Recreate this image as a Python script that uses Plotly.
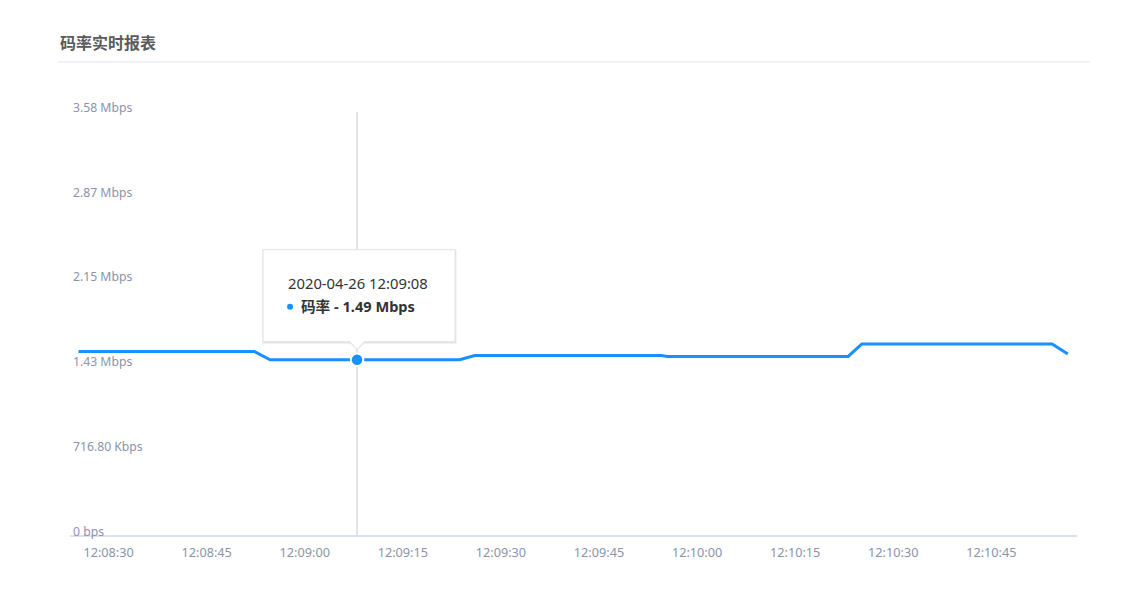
import plotly.graph_objects as go

# ---- data ----
DAY = "2020-04-26"
times = ["12:08:25.4", "12:08:52.3", "12:08:54.7", "12:09:08", "12:09:23.7", "12:09:26.0",
         "12:09:54.5", "12:09:55.5", "12:10:23.1", "12:10:25.2", "12:10:54.3", "12:10:56.7"]
bitrate_kbps = [1560, 1560, 1490, 1490, 1490, 1526, 1526, 1518, 1518, 1623, 1623, 1538]
series_name = "码率"
title_text = "码率实时报表"

y_tick_vals = [0, 716.8, 1433.6, 2150.4, 2867.2, 3584]
y_tick_text = ["0 bps", "716.80 Kbps", "1.43 Mbps", "2.15 Mbps", "2.87 Mbps", "3.58 Mbps"]
x_tick_labels = ["12:08:30", "12:08:45", "12:09:00", "12:09:15", "12:09:30", "12:09:45",
                 "12:10:00", "12:10:15", "12:10:30", "12:10:45"]
x_range = ["12:08:24.1", "12:10:58.1"]
tooltip_index = 3

# ---- derived ----
xs = [f"{DAY} {t}" for t in times]
tip_x = xs[tooltip_index]
tip_y = bitrate_kbps[tooltip_index]
tip_time = f"{DAY} {times[tooltip_index]}"
tip_val = f"{tip_y / 1000:.2f} Mbps"

BLUE = "#1890ff"
LABEL = "#8a93a8"
FONT = "Noto Sans, Noto Sans CJK SC, sans-serif"

fig = go.Figure()
fig.add_trace(go.Scatter(x=xs, y=bitrate_kbps, mode="lines", name=series_name,
                         line=dict(color=BLUE, width=3), hoverinfo="skip"))
fig.add_trace(go.Scatter(x=[tip_x], y=[tip_y], mode="markers", hoverinfo="skip",
                         marker=dict(size=12.5, color=BLUE, line=dict(color="white", width=2))))

shapes = []
# crosshair
shapes.append(dict(type="line", xref="x", yref="y", x0=tip_x, x1=tip_x, y0=0, y1=y_tick_vals[-1] * 1.003,
                   line=dict(color="#c8c9cc", width=1), layer="below"))
# title separator
shapes.append(dict(type="line", xref="paper", yref="paper", x0=-0.0119, x1=1.0129, y0=1.118, y1=1.118,
                   line=dict(color="#e3e5ec", width=1)))
# tooltip shadow + box (pixel sizes relative to the hovered point)
common = dict(xref="x", yref="y", xsizemode="pixel", ysizemode="pixel", xanchor=tip_x, yanchor=tip_y)
shapes.append(dict(type="rect", x0=-95, x1=100, y0=15.5, y1=110, fillcolor="rgba(0,0,0,0.04)",
                   line=dict(width=0), **common))
shapes.append(dict(type="rect", x0=-94.5, x1=99, y0=16.5, y1=110, fillcolor="rgba(0,0,0,0.07)",
                   line=dict(width=0), **common))
shapes.append(dict(type="rect", x0=-94, x1=98, y0=18, y1=110, fillcolor="white",
                   line=dict(color="#e4e4e4", width=1), **common))
# pointer
shapes.append(dict(type="path", path="M -8,18.5 L 0,10 L 8,18.5", fillcolor="white",
                   line=dict(color="#d6d6d6", width=1), **common))
shapes.append(dict(type="rect", x0=-7, x1=7, y0=17.5, y1=19.5, fillcolor="white",
                   line=dict(width=0), **common))
# tooltip dot
shapes.append(dict(type="circle", x0=-70, x1=-64, y0=50, y1=56, fillcolor=BLUE,
                   line=dict(width=0), **common))

annotations = [
    dict(text=f"<b>{title_text}</b>", xref="paper", yref="paper", x=-0.0119, y=1.165,
         xanchor="left", yanchor="middle", showarrow=False,
         font=dict(family="Noto Sans CJK SC", size=16, color="#5a5a5a")),
    dict(text=tip_time, xref="x", yref="y", x=tip_x, y=tip_y, xanchor="left", yanchor="middle",
         xshift=-71, yshift=77, showarrow=False, font=dict(family=FONT, size=14.8, color="#333333")),
    dict(text=f"<b>{series_name} - {tip_val}</b>", xref="x", yref="y", x=tip_x, y=tip_y,
         xanchor="left", yanchor="middle", xshift=-58, yshift=53.5, showarrow=False,
         font=dict(family=FONT, size=14.6, color="#333333")),
]

fig.update_layout(
    width=1133, height=599,
    margin=dict(l=70, r=56, t=112, b=63),
    paper_bgcolor="white", plot_bgcolor="white",
    showlegend=False, hovermode=False,
    shapes=shapes, annotations=annotations,
    font=dict(family=FONT, size=12, color=LABEL),
    xaxis=dict(type="date", range=[f"{DAY} {t}" for t in x_range],
               tickvals=[f"{DAY} {t}" for t in x_tick_labels], ticktext=x_tick_labels,
               anchor="free", position=0,
               showgrid=False, zeroline=False, showline=True, linecolor="#dbe2ec", linewidth=2,
               ticks="", ticklabelstandoff=5, tickfont=dict(size=12.7, color=LABEL)),
    yaxis=dict(range=[0, y_tick_vals[-1]], tickvals=y_tick_vals, ticktext=y_tick_text,
               showgrid=False, zeroline=False, showline=False, ticks="",
               ticklabelposition="inside top", ticklabeloverflow="allow", ticklabelshift=4,
               tickfont=dict(size=12.2, color=LABEL)),
)

fig.write_html("out.html", config={"displayModeBar": False},
               post_script="document.body.style.margin='0';document.body.style.overflow='hidden';")
